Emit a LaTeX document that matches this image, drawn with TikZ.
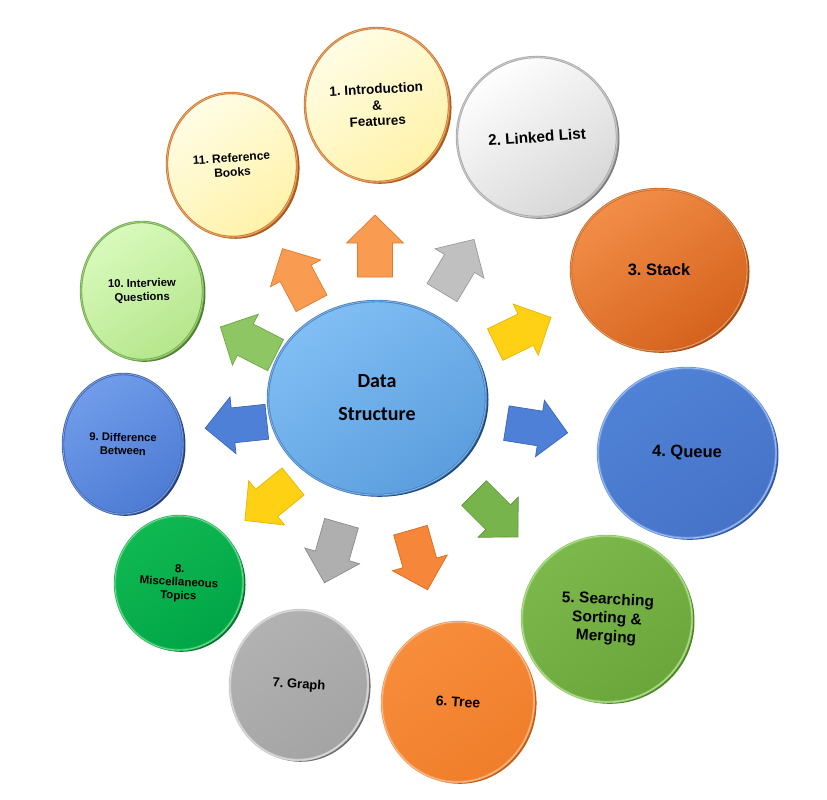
\documentclass[tikz,border=0pt]{standalone}
\usepackage{fontspec}
\setmainfont{Liberation Sans}
\newfontfamily\calib{Carlito}
\usetikzlibrary{shapes.geometric,shadows}
\frenchspacing
\definecolor{creamA}{HTML}{FFFDE6}
\definecolor{creamB}{HTML}{FFF2A8}
\definecolor{creamR}{HTML}{D2772C}
\definecolor{creamS}{HTML}{A95A1A}
\definecolor{whiteA}{HTML}{FFFFFF}
\definecolor{whiteB}{HTML}{D6D6D6}
\definecolor{whiteR}{HTML}{ABABAB}
\definecolor{whiteS}{HTML}{7E7E7E}
\definecolor{stackA}{HTML}{F28E48}
\definecolor{stackB}{HTML}{D5621C}
\definecolor{stackR}{HTML}{D06A24}
\definecolor{stackS}{HTML}{A24A12}
\definecolor{queueA}{HTML}{4F82D6}
\definecolor{queueB}{HTML}{4673C8}
\definecolor{queueR}{HTML}{6D97E0}
\definecolor{queueS}{HTML}{2F56A0}
\definecolor{searchA}{HTML}{7DB84C}
\definecolor{searchB}{HTML}{6AA63A}
\definecolor{searchR}{HTML}{8CC860}
\definecolor{searchS}{HTML}{4C8226}
\definecolor{treeA}{HTML}{F78D3C}
\definecolor{treeB}{HTML}{F07E2A}
\definecolor{treeR}{HTML}{F39A55}
\definecolor{treeS}{HTML}{C05C14}
\definecolor{graphA}{HTML}{B2B2B2}
\definecolor{graphB}{HTML}{A4A4A4}
\definecolor{graphR}{HTML}{C8C8C8}
\definecolor{graphS}{HTML}{6E6E6E}
\definecolor{miscA}{HTML}{10B852}
\definecolor{miscB}{HTML}{00A646}
\definecolor{miscR}{HTML}{2BBE5E}
\definecolor{miscS}{HTML}{0A6E2E}
\definecolor{diffA}{HTML}{709CEA}
\definecolor{diffB}{HTML}{4E7CD4}
\definecolor{diffR}{HTML}{3E68B8}
\definecolor{diffS}{HTML}{243E78}
\definecolor{intA}{HTML}{D8FABC}
\definecolor{intB}{HTML}{B6E68C}
\definecolor{intR}{HTML}{72AE48}
\definecolor{intS}{HTML}{4E7E2E}
\definecolor{dsA}{HTML}{80BEF4}
\definecolor{dsB}{HTML}{5C9EDE}
\definecolor{dsR}{HTML}{4585C8}
\definecolor{dsS}{HTML}{1E4A7A}
\definecolor{arO}{HTML}{F99C52}
\definecolor{arOd}{HTML}{E07A30}
\definecolor{arG}{HTML}{C0C0C0}
\definecolor{arGd}{HTML}{9A9A9A}
\definecolor{arY}{HTML}{FFD114}
\definecolor{arYd}{HTML}{E8B400}
\definecolor{arB}{HTML}{4F80D8}
\definecolor{arBd}{HTML}{3A66B8}
\definecolor{arGr}{HTML}{78B44C}
\definecolor{arGrd}{HTML}{5E9636}
\definecolor{arO2}{HTML}{F6873A}
\definecolor{arO2d}{HTML}{D86C20}
\definecolor{arG2}{HTML}{AFAFAF}
\definecolor{arG2d}{HTML}{8C8C8C}
\definecolor{arGr2}{HTML}{8DC662}
\definecolor{arGr2d}{HTML}{6EA446}
\newcommand\blockarr[5]{%
  \begin{scope}[shift={(#1,#2)}, rotate=#3]
    \fill[#4, draw=#5, line width=0.7pt, line join=miter]
      (-31,-17.5) -- (3,-17.5) -- (3,-28.5) -- (31,0) -- (3,28.5) -- (3,17.5) -- (-31,17.5) -- cycle;
  \end{scope}}
\begin{document}
\begin{tikzpicture}[x=1pt,y=-1pt,
  disc/.style n args={4}{ellipse, inner sep=0pt, align=center, line width=2.4pt,
    draw=#3, top color=#1, bottom color=#2, shading angle=35,
    general shadow={fill=#4, shadow xshift=2.5pt, shadow yshift=-1.8pt},
    postaction={draw=white, draw opacity=0.45, line width=0.6pt}}]
\useasboundingbox (0,0) rectangle (827,800);
\fill[white] (0,0) rectangle (827,800);

% outer discs
\node[disc={creamA}{creamB}{creamR}{creamS}, minimum width=144, minimum height=154, rotate=3,
  font=\bfseries\fontsize{13.5}{16}\selectfont] (intro) at (377,105) {1. Introduction\\\&\\Features};
\node[disc={whiteA}{whiteB}{whiteR}{whiteS}, minimum width=160, minimum height=160, rotate=4,
  font=\bfseries\fontsize{15.3}{17}\selectfont] (linked) at (537,137) {2. Linked List};
\node[disc={stackA}{stackB}{stackR}{stackS}, minimum width=176, minimum height=162, rotate=0,
  font=\bfseries\fontsize{16.5}{18}\selectfont] (stack) at (659,270) {3. Stack};
\node[disc={queueA}{queueB}{queueR}{queueS}, minimum width=178, minimum height=170, rotate=-1,
  font=\bfseries\fontsize{16.5}{18}\selectfont] (queue) at (687,453) {4. Queue};
\node[disc={searchA}{searchB}{searchR}{searchS}, minimum width=170, minimum height=166, rotate=-3,
  font=\bfseries\fontsize{15.5}{18.5}\selectfont] (search) at (607,619) {5. Searching\\Sorting \&\\Merging};
\node[disc={treeA}{treeB}{treeR}{treeS}, minimum width=152, minimum height=160, rotate=-4,
  font=\bfseries\fontsize{14}{16}\selectfont] (tree) at (458,702) {6. Tree};
\node[disc={graphA}{graphB}{graphR}{graphS}, minimum width=138, minimum height=150, rotate=-4,
  font=\bfseries\fontsize{13}{15}\selectfont] (graph) at (299,685) {7. Graph};
\node[disc={miscA}{miscB}{miscR}{miscS}, minimum width=128, minimum height=134, rotate=-3,
  font=\bfseries\fontsize{11.5}{13.5}\selectfont] (misc) at (179,583) {8.\\Miscellaneous\\Topics};
\node[disc={diffA}{diffB}{diffR}{diffS}, minimum width=120, minimum height=140, rotate=-1,
  font=\bfseries\fontsize{11.2}{13.5}\selectfont] (diff) at (123,444) {9. Difference\\Between};
\node[disc={intA}{intB}{intR}{intS}, minimum width=122, minimum height=138, rotate=1,
  font=\bfseries\fontsize{11.3}{14}\selectfont] (inter) at (142,291) {10. Interview\\Questions};
\node[disc={creamA}{creamB}{creamR}{creamS}, minimum width=130, minimum height=144, rotate=4,
  font=\bfseries\fontsize{12}{14.5}\selectfont] (refb) at (232,165) {11. Reference\\Books};

% centre
\node[disc={dsA}{dsB}{dsR}{dsS}, minimum width=218, minimum height=194,
  font=\calib\bfseries\fontsize{20}{33}\selectfont] (ds) at (377,398) {Data\\Structure};

% block arrows
\blockarr{375}{246}{90}{arO}{arOd}
\blockarr{458}{266}{59}{arG}{arGd}
\blockarr{523}{331}{26}{arY}{arYd}
\blockarr{537}{428}{-9}{arB}{arBd}
\blockarr{496}{515}{-45}{arGr}{arGrd}
\blockarr{419}{560}{-74}{arO2}{arO2d}
\blockarr{333}{553}{-106}{arG2}{arG2d}
\blockarr{269}{501}{219}{arY}{arYd}
\blockarr{236}{425}{186}{arB}{arBd}
\blockarr{248}{341}{153}{arGr2}{arGr2d}
\blockarr{297}{276}{118}{arO}{arOd}
\end{tikzpicture}
\end{document}
